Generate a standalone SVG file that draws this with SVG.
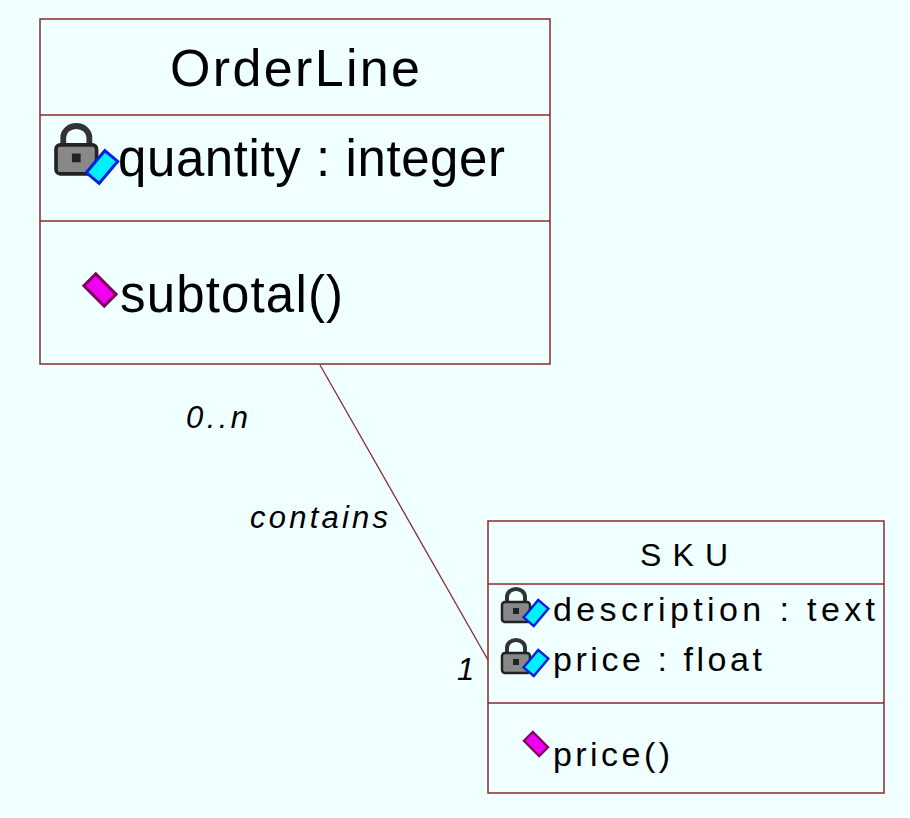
<svg xmlns="http://www.w3.org/2000/svg" width="910" height="818" viewBox="0 0 910 818">
<style>
.box{fill:#f0ffff;stroke:#8b2a2a;stroke-width:1.5}
.t{font-family:"Liberation Sans",Arial,sans-serif;fill:#000}
.lab{font-family:"Liberation Sans",Arial,sans-serif;font-style:italic;font-size:31px;fill:#000}
</style>
<defs>
<g id="lock">
<path d="M5,14 V8 a9,8 0 0 1 18,0 V14" fill="none" stroke="#333" stroke-width="4"/>
<rect x="0" y="13" width="28" height="20" rx="3" fill="#888" stroke="#222" stroke-width="2.5"/>
<rect x="11" y="19" width="6" height="6" fill="#222"/>
</g>
<g id="attr"><rect x="-12" y="-7" width="24" height="14" fill="#00f0ff" stroke="#0020e0" stroke-width="2.5" transform="rotate(-50)"/></g>
<g id="op"><rect x="-12" y="-7" width="24" height="14" fill="#f000f0" stroke="#800060" stroke-width="2.5" transform="rotate(45)"/></g>
</defs>
<rect width="910" height="818" fill="#f0ffff"/>
<g id="connectors">
<line x1="320" y1="365" x2="488" y2="660" stroke="#8b2a2a" stroke-width="1.3"/>
<text class="lab" x="186" y="428" textLength="62">0..n</text>
<text class="lab" x="250" y="528" textLength="138">contains</text>
<text class="lab" x="457" y="680">1</text>
</g>
<g id="OrderLine">
<rect class="box" x="40" y="19" width="510" height="345"/>
<line class="box" x1="40" y1="115" x2="550" y2="115"/>
<line class="box" x1="40" y1="221" x2="550" y2="221"/>
<text class="t" x="170" y="86" font-size="52" textLength="250">OrderLine</text>
<use href="#lock" transform="translate(56,126) scale(1.45)"/>
<use href="#attr" transform="translate(102,167) scale(1.2)"/>
<text class="t" x="118" y="176" font-size="51" textLength="387">quantity : integer</text>
<use href="#op" transform="translate(100,290) scale(1.2)"/>
<text class="t" x="120" y="312" font-size="51" textLength="223">subtotal()</text>
</g>
<g id="SKU">
<rect class="box" x="488" y="521" width="396" height="272"/>
<line class="box" x1="488" y1="584" x2="884" y2="584"/>
<line class="box" x1="488" y1="703" x2="884" y2="703"/>
<text class="t" x="640" y="566" font-size="32" textLength="88">SKU</text>
<use href="#lock" transform="translate(502,589) scale(1)"/>
<use href="#attr" transform="translate(536,613) scale(0.95)"/>
<text class="t" x="553" y="621" font-size="34" textLength="322">description : text</text>
<use href="#lock" transform="translate(502,640) scale(1)"/>
<use href="#attr" transform="translate(536,663) scale(0.95)"/>
<text class="t" x="553" y="671" font-size="34" textLength="209">price : float</text>
<use href="#op" transform="translate(536,744) scale(0.9)"/>
<text class="t" x="553" y="766" font-size="34" textLength="117">price()</text>
</g>
</svg>
